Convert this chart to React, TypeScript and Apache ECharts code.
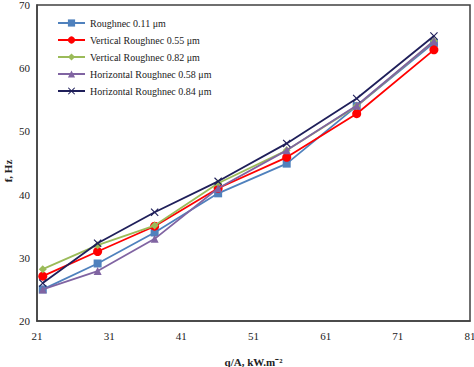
import React, { useEffect, useRef } from "react";
import * as echarts from "echarts";

const xValues = [21.8, 29.4, 37.3, 46.1, 55.6, 65.3, 76.0];
const seriesNames = [
  "Roughnec 0.11 μm",
  "Vertical Roughnec 0.55 μm",
  "Vertical Roughnec 0.82 μm",
  "Horizontal Roughnec 0.58 μm",
  "Horizontal Roughnec 0.84 μm",
];
const rough011 = [25, 29.1, 34, 40.2, 44.9, 54, 64];
const vert055 = [27.1, 31, 35, 41, 45.9, 52.8, 62.9];
const vert082 = [28.2, 32, 35.1, 41.8, 47, 54, 64.3];
const horiz058 = [25, 27.9, 33, 41, 47, 54.1, 64.3];
const horiz084 = [26, 32.3, 37.2, 42.1, 48.1, 55.2, 65.1];
const xTicks = { min: 21, max: 81, interval: 10 };
const yTicks = { min: 20, max: 70, interval: 10 };

const colors = ["#4F81BD", "#FF0000", "#9BBB59", "#8064A2", "#1F1F5A"];
const xSymbol =
  "path://M1,0L5,4L9,0L10,1L6,5L10,9L9,10L5,6L1,10L0,9L4,5L0,1Z";
const symbols = ["rect", "circle", "diamond", "triangle", xSymbol];
const symbolSizes = [8, 9, 8, 8, 8];

export default function App() {
  const ref = useRef<HTMLDivElement>(null);
  useEffect(() => {
    if (!ref.current) return;
    const chart = echarts.init(ref.current, null, { renderer: "svg" });
    const allData = [rough011, vert055, vert082, horiz058, horiz084];
    const font = "'Liberation Serif', 'Times New Roman', serif";
    chart.setOption({
      animation: false,
      textStyle: { fontFamily: font },
      grid: {
        left: 37,
        right: 4,
        top: 5,
        bottom: 46,
        containLabel: false,
        outerBoundsMode: "none",
        show: true,
        borderColor: "#404040",
        borderWidth: 1.5,
        backgroundColor: "transparent",
      },
      legend: {
        orient: "vertical",
        left: 52,
        top: 13,
        itemWidth: 27,
        itemHeight: 9,
        itemGap: 7,
        textStyle: { fontFamily: font, fontSize: 10, color: "#222" },
        data: seriesNames,
      },
      xAxis: {
        type: "value",
        min: xTicks.min,
        max: xTicks.max,
        interval: xTicks.interval,
        splitLine: { show: false },
        axisTick: { show: false },
        axisLine: { lineStyle: { color: "#404040", width: 1.5 } },
        axisLabel: { color: "#222", fontSize: 11, fontFamily: font, margin: 9 },
        name: "q/A, kW.m⁻²",
        nameLocation: "middle",
        nameGap: 35,
        nameMoveOverlap: false,
        nameTextStyle: { fontFamily: font, fontSize: 11, fontWeight: "bold", color: "#222" },
      },
      yAxis: {
        type: "value",
        min: yTicks.min,
        max: yTicks.max,
        interval: yTicks.interval,
        splitLine: { show: false },
        axisTick: { show: false },
        axisLine: { lineStyle: { color: "#404040", width: 1.5 } },
        axisLabel: { color: "#222", fontSize: 11, fontFamily: font, margin: 7 },
        name: "f, Hz",
        nameLocation: "middle",
        nameGap: 24,
        nameMoveOverlap: false,
        nameTextStyle: {
          fontFamily: font,
          fontSize: 11,
          fontWeight: "bold",
          color: "#222",
          padding: [0, 16, 0, 0],
        },
      },
      series: seriesNames.map((name, i) => ({
        name,
        type: "line",
        data: xValues.map((x, j) => [x, allData[i][j]]),
        symbol: symbols[i],
        symbolSize: symbolSizes[i],
        showAllSymbol: true,
        color: colors[i],
        lineStyle: { width: 1.8, color: colors[i] },
        itemStyle: { color: colors[i] },
        z: i === 4 ? 10 : 2 + i,
      })),
    });
    return () => chart.dispose();
  }, []);
  return (
    <div
      ref={ref}
      style={{ position: "fixed", left: 0, top: 0, width: 474, height: 367, background: "#fff" }}
    />
  );
}
